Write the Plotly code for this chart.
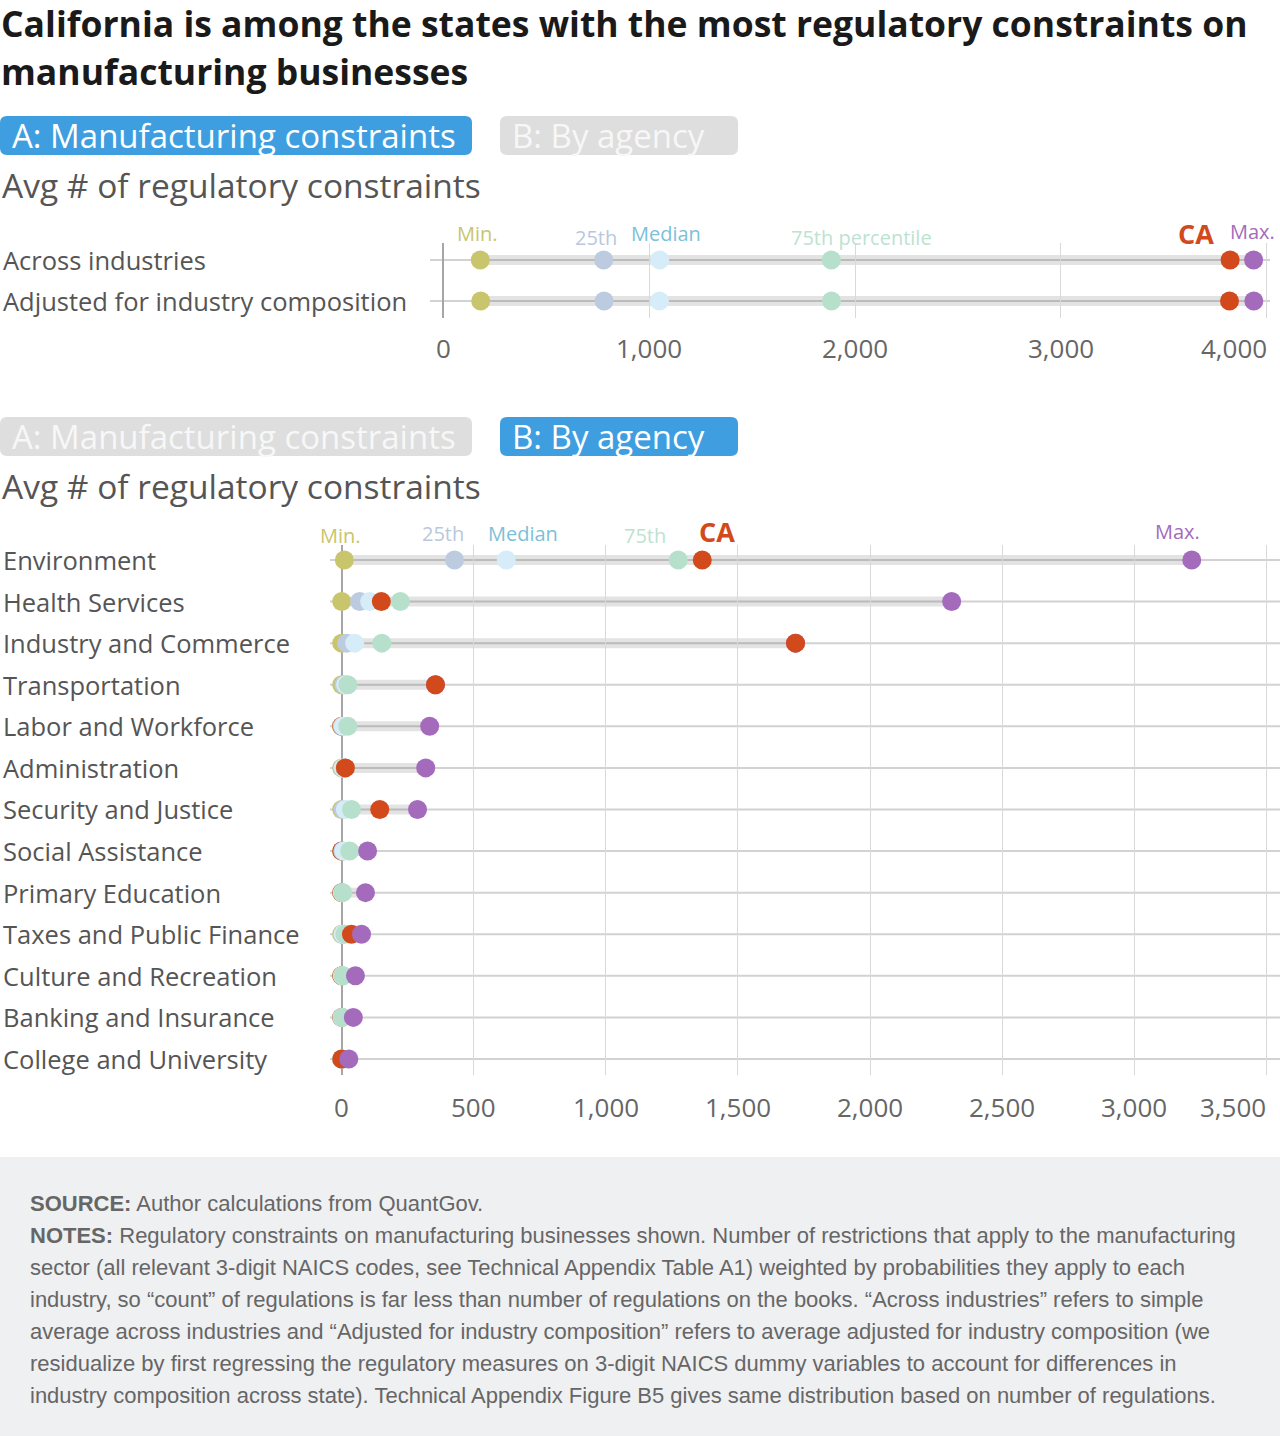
import plotly.graph_objects as go

W, H = 1280, 1436
FONT = "Open Sans"

# ---------------- data ----------------
top_rows = ["Across industries", "Adjusted for industry composition"]
top_min = [181, 183]
top_p25 = [780, 782]
top_median = [1052, 1051]
top_p75 = [1885, 1886]
top_ca = [3821, 3818]
top_max = [3935, 3936]
top_ticks = [0, 1000, 2000, 3000, 4000]

agencies = ["Environment", "Health Services", "Industry and Commerce", "Transportation",
            "Labor and Workforce", "Administration", "Security and Justice",
            "Social Assistance", "Primary Education", "Taxes and Public Finance",
            "Culture and Recreation", "Banking and Insurance", "College and University"]
ag_min = [10, 0, 0, 0, 0, 0, 0, 0, 0, 0, 0, 0, 0]
ag_p25 = [427, 68, 19, 8, 2, 3, 5, 4, 0, 3, 2, 1, 0]
ag_median = [623, 106, 49, 15, 6, 6, 14, 8, 2, 6, 3, 2, 0]
ag_p75 = [1274, 222, 152, 23, 23, 12, 37, 30, 4, 12, 5, 3, 0]
ag_ca = [1365, 150, 1718, 355, 0, 14, 144, 0, 0, 37, 0, 0, 0]
ag_max = [3218, 2309, 1718, 355, 333, 318, 287, 98, 90, 75, 52, 44, 27]
ag_ticks = [0, 500, 1000, 1500, 2000, 2500, 3000, 3500]

stat_names = ["Min.", "25th", "Median", "75th", "Max.", "CA"]
COL = {"Min.": "#c9c56d", "25th": "#bccbe0", "Median": "#d6edf9", "75th": "#b7e0cc",
       "Max.": "#a46bbd", "CA": "#d24a1b"}
LABCOL = {"Min.": "#c9c56d", "25th": "#b9c8dc", "Median": "#7cbfd9", "75th": "#bde2d1",
          "Max.": "#a46bbd", "CA": "#d24a1b"}


def px(x):
    return x / W


def py(y):
    return 1 - y / H


fig = go.Figure()

# -------- axes geometry --------
top_dom_y = [py(318), py(243)]
bot_dom_y = [py(1075), py(545)]
top_range_x = [-63.1, 4014.6]
bot_range_x = [-44.3, 3552]

axis_common = dict(showgrid=True, gridcolor="#d9d9d9", gridwidth=1, zeroline=True,
                   zerolinecolor="#a6a6a6", zerolinewidth=2, showticklabels=False,
                   ticks="", showline=False, fixedrange=True)
fig.update_layout(
    xaxis=dict(domain=[px(430), px(1270)], range=top_range_x, anchor="y",
               tickvals=top_ticks, **axis_common),
    yaxis=dict(domain=top_dom_y, range=[1.415, -0.415], visible=False, anchor="x"),
    xaxis2=dict(domain=[px(330), 1.0], range=bot_range_x, anchor="y2",
                tickvals=ag_ticks, **axis_common),
    yaxis2=dict(domain=bot_dom_y, range=[12.385, -0.36], visible=False, anchor="x2"),
)

shapes = []
annotations = []


def panel(rows, mins, p25, med, p75, mx, ca, xa, ya, ticks, tick_y, lab_offsets):
    yref = ya
    # min-max band and row line
    for i in range(len(rows)):
        shapes.append(dict(type="line", xref=xa, yref=yref, x0=mins[i], x1=mx[i], y0=i, y1=i,
                           line=dict(color="rgba(0,0,0,0.11)", width=10), layer="below"))
        shapes.append(dict(type="line", xref=xa + " domain", yref=yref, x0=0, x1=1, y0=i, y1=i,
                           line=dict(color="#d2d2d2", width=2), layer="below"))
    # dots, drawn in ascending order per row
    xs, ys, cs = [], [], []
    for i in range(len(rows)):
        vals = {"Min.": mins[i], "25th": p25[i], "Median": med[i], "75th": p75[i],
                "Max.": mx[i], "CA": ca[i]}
        pts = sorted([(vals[s], s) for s in stat_names], key=lambda t: t[0])
        for v, s in pts:
            xs.append(v)
            ys.append(i)
            cs.append(COL[s])
    fig.add_trace(go.Scatter(x=xs, y=ys, mode="markers", xaxis=xa, yaxis=ya,
                             marker=dict(size=19, color=cs, line=dict(width=0)),
                             hoverinfo="x", showlegend=False))
    # row labels
    for i, r in enumerate(rows):
        annotations.append(dict(text=r, xref="paper", yref=yref, x=px(1), y=i, xanchor="left",
                                yanchor="middle", showarrow=False,
                                font=dict(family=FONT, size=25.5, color="#555555")))
    # stat labels above first row
    vals0 = {"Min.": mins[0], "25th": p25[0], "Median": med[0], "75th": p75[0],
             "Max.": mx[0], "CA": ca[0]}
    for s, (txt, dx, dy) in lab_offsets.items():
        is_ca = s == "CA"
        annotations.append(dict(text=("<b>%s</b>" % txt) if is_ca else txt, xref=xa, yref=yref,
                                x=vals0[s], y=0, xshift=dx, yshift=dy, xanchor="center",
                                yanchor="middle", showarrow=False,
                                font=dict(family=FONT, size=27 if is_ca else 20,
                                          color=LABCOL[s])))
    # tick labels
    for k, t in enumerate(ticks):
        last = k == len(ticks) - 1
        annotations.append(dict(text=f"{t:,}", xref=xa, yref="paper", x=t, y=py(tick_y),
                                xanchor="right" if last else "center", yanchor="middle",
                                showarrow=False, xshift=2 if last else 0,
                                font=dict(family=FONT, size=26, color="#666666")))


panel(top_rows, top_min, top_p25, top_median, top_p75, top_max, top_ca, "x", "y",
      top_ticks, 348,
      {"Min.": ("Min.", -3, 27), "25th": ("25th", -8, 23), "Median": ("Median", 6, 27),
       "75th": ("75th percentile", 30, 23), "CA": ("CA", -34, 27), "Max.": ("Max.", -1, 29)})
panel(agencies, ag_min, ag_p25, ag_median, ag_p75, ag_max, ag_ca, "x2", "y2",
      ag_ticks, 1107,
      {"Min.": ("Min.", -4, 24), "25th": ("25th", -12, 26), "Median": ("Median", 17, 26),
       "75th": ("75th", -33, 24), "CA": ("CA", 15, 28), "Max.": ("Max.", -14, 28)})


# -------- buttons / headers --------
def rrect(x0, y0, x1, y1, r, color):
    X0, X1 = px(x0), px(x1)
    rx, ry = r / W, r / H
    Y0, Y1 = py(y0), py(y1)  # Y0 top, Y1 bottom
    path = (f"M{X0+rx},{Y0} L{X1-rx},{Y0} Q{X1},{Y0} {X1},{Y0-ry} "
            f"L{X1},{Y1+ry} Q{X1},{Y1} {X1-rx},{Y1} L{X0+rx},{Y1} "
            f"Q{X0},{Y1} {X0},{Y1+ry} L{X0},{Y0-ry} Q{X0},{Y0} {X0+rx},{Y0} Z")
    shapes.append(dict(type="path", xref="paper", yref="paper", path=path,
                       fillcolor=color, line=dict(width=0), layer="below"))


BLUE, GRAY = "#3e9ee0", "#dedede"
for (y0, active) in [(116, "A"), (417, "B")]:
    rrect(0, y0, 472, y0 + 39, 7, BLUE if active == "A" else GRAY)
    rrect(500, y0, 738, y0 + 39, 7, BLUE if active == "B" else GRAY)
    annotations.append(dict(text="A: Manufacturing constraints", xref="paper", yref="paper",
                            x=px(10), y=py(y0 + 19.5), xanchor="left", yanchor="middle",
                            showarrow=False,
                            font=dict(family=FONT, size=33,
                                      color="#ffffff" if active == "A" else "#f7f7f7")))
    annotations.append(dict(text="B: By agency", xref="paper", yref="paper",
                            x=px(510), y=py(y0 + 19.5), xanchor="left", yanchor="middle",
                            showarrow=False,
                            font=dict(family=FONT, size=33,
                                      color="#ffffff" if active == "B" else "#f7f7f7")))
    annotations.append(dict(text="Avg # of regulatory constraints", xref="paper", yref="paper",
                            x=px(0), y=py(y0 + 69), xanchor="left", yanchor="middle",
                            showarrow=False, font=dict(family=FONT, size=33.5, color="#555555")))

# title
for txt, yc in [("California is among the states with the most regulatory constraints on", 23),
                ("manufacturing businesses", 71)]:
    annotations.append(dict(text=f"<b>{txt}</b>", xref="paper", yref="paper", x=px(-1), y=py(yc),
                            xanchor="left", yanchor="middle", showarrow=False,
                            font=dict(family=FONT, size=35.5, color="#1a1a1a")))

# footer
shapes.append(dict(type="rect", xref="paper", yref="paper", x0=0, x1=1, y0=0, y1=py(1157),
                   fillcolor="#eff0f2", line=dict(width=0), layer="below"))
foot = [
    "<b>SOURCE:</b> Author calculations from QuantGov.",
    "<b>NOTES:</b> Regulatory constraints on manufacturing businesses shown. Number of restrictions that apply to the manufacturing",
    "sector (all relevant 3-digit NAICS codes, see Technical Appendix Table A1) weighted by probabilities they apply to each",
    "industry, so “count” of regulations is far less than number of regulations on the books. “Across industries” refers to simple",
    "average across industries and “Adjusted for industry composition” refers to average adjusted for industry composition (we",
    "residualize by first regressing the regulatory measures on 3-digit NAICS dummy variables to account for differences in",
    "industry composition across state). Technical Appendix Figure B5 gives same distribution based on number of regulations.",
]
for k, line in enumerate(foot):
    annotations.append(dict(text=line, xref="paper", yref="paper", x=px(28), y=py(1203 + 32 * k),
                            xanchor="left", yanchor="middle", showarrow=False,
                            font=dict(family="Liberation Sans", size=22, color="#666666")))

fig.update_layout(width=W, height=H, margin=dict(l=0, r=0, t=0, b=0),
                  paper_bgcolor="white", plot_bgcolor="rgba(0,0,0,0)",
                  shapes=shapes, annotations=annotations, showlegend=False)
fig.write_html("out.html", config={"displayModeBar": False})
